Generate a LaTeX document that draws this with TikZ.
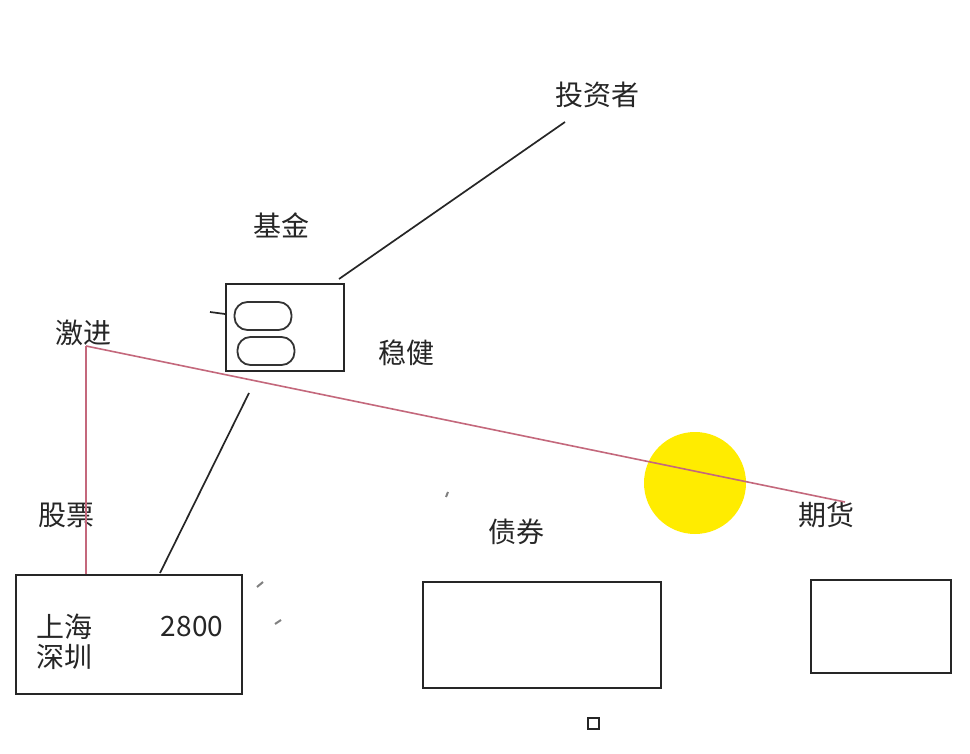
\documentclass[tikz,border=0pt]{standalone}
\usepackage{fontspec}
\setmainfont{Noto Sans CJK SC}
\usepackage{tikz}
\usetikzlibrary{positioning}
\usepackage{xcolor}
\definecolor{linkpink}{RGB}{196,104,124}
\definecolor{sunyellow}{RGB}{255,236,0}
\tikzstyle{lbl}=[inner sep=0,font=\fontsize{28}{30}\selectfont,text=black!85]
\tikzstyle{box}=[draw=black!85,line width=2pt,inner sep=0]
\tikzstyle{pill}=[draw=black!80,line width=1.8pt,rounded corners=13pt,minimum width=57pt,minimum height=28pt,inner sep=0]

\begin{document}
\begin{tikzpicture}[x=1pt,y=-1pt]
\useasboundingbox[fill=white] (0,0) rectangle (970,754);

% labels
\node[lbl] (investor) at (597,95) {投资者};
\node[lbl] (fundlbl) at (281,225) {基金};
\node[lbl] (steady) at (406,353) {稳健};
\node[lbl] (radical) at (84,333) {激进};
\node[lbl] (stocklbl) at (66,515) {股票};
\node[lbl] (bondlbl) at (516,532) {债券};
\node[lbl] (futlbl) at (826,515) {期货};

% boxes
\node[box,minimum width=118pt,minimum height=87pt] (fund) at (285,327.5) {};
\node[pill] (pillA) at (263,316) {};
\node[pill] (pillB) at (266,351) {};
\node[box,minimum width=226pt,minimum height=119pt] (stock) at (129,634.5) {};
\node[box,minimum width=238pt,minimum height=106pt] (bond) at (542,635) {};
\node[box,minimum width=140pt,minimum height=93pt] (futures) at (881,626.5) {};
\node[box,minimum size=11pt] (dot) at (593,723) {};

\node[lbl] (sh) at (64,627) {上海};
\node[lbl] (sz) at (64,657) {深圳};
\node[lbl] (index) at (192,627) {2800};

% sun
\node[circle,fill=sunyellow,minimum size=102pt,inner sep=0] (sun) at (695,483) {};

% connectors
\coordinate (invfoot) at (565,122);
\coordinate (radfoot) at (86,346);
\coordinate (futfoot) at (845,502);
\coordinate (fundfoot) at (249,393);
\coordinate (stocktop) at (160,573);
\coordinate (tick) at (210,312);

\draw[black!85,line width=1.7pt] (invfoot) -- ([shift={(-6,-4)}]fund.north east);
\draw[black!85,line width=1.7pt] (tick) -- (fund.west |- 0,314);
\draw[black!85,line width=1.7pt] (fundfoot) -- (stocktop);
\draw[linkpink,line width=1.6pt] (radfoot) -- (futfoot);
\draw[linkpink,line width=1.6pt] (radfoot) -- (radfoot |- stock.north);

% stray marks
\draw[gray,line width=2pt] (257,587) -- (263,582);
\draw[gray,line width=2pt] (275,624) -- (281,620);
\draw[gray,line width=2pt] (446,497) -- (448,492);
\end{tikzpicture}
\end{document}
